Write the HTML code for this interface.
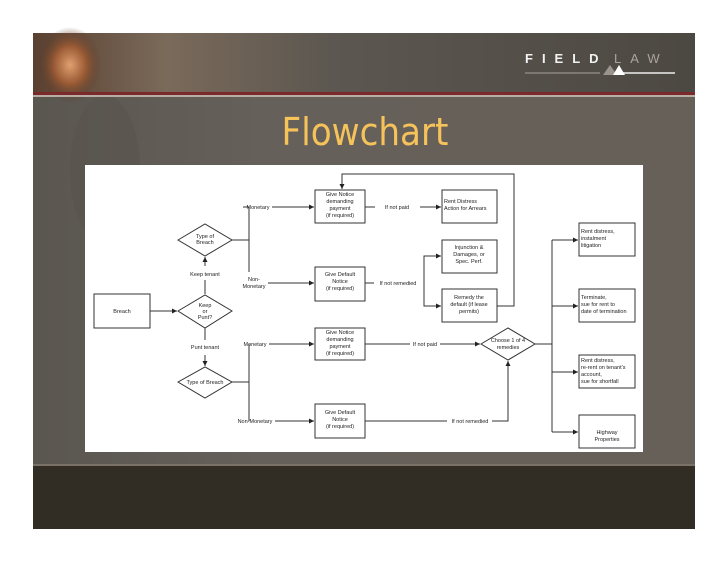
<!DOCTYPE html>
<html><head><meta charset="utf-8"><style>
body{margin:0;width:728px;height:563px;background:#fff;overflow:hidden;position:relative;font-family:"Liberation Sans",sans-serif}
</style></head><body>
<svg width="728" height="563" viewBox="0 0 728 563" style="position:absolute;left:0;top:0">
<defs>
<linearGradient id="hd" x1="0" x2="1" y1="0" y2="0">
<stop offset="0" stop-color="#5a4030"/><stop offset="0.2" stop-color="#7a6a5a"/><stop offset="0.45" stop-color="#5c5750"/><stop offset="1" stop-color="#4c4842"/></linearGradient>
<linearGradient id="bd" x1="0" x2="1" y1="0" y2="0">
<stop offset="0" stop-color="#5a5650"/><stop offset="0.35" stop-color="#66605a"/><stop offset="1" stop-color="#676058"/></linearGradient>
<radialGradient id="gv" cx="0.5" cy="0.5" r="0.5"><stop offset="0" stop-color="#e0a070"/><stop offset="0.5" stop-color="#9a5a34"/><stop offset="1" stop-color="#5a3a28" stop-opacity="0"/></radialGradient>
<marker id="a" markerWidth="6" markerHeight="6" refX="5" refY="3" orient="auto" markerUnits="userSpaceOnUse"><path d="M0,0.5 L5,3 L0,5.5z" fill="#222"/></marker>
</defs>
<rect x="33" y="33" width="662" height="496" fill="url(#bd)"/>
<rect x="33" y="33" width="662" height="60" fill="url(#hd)"/>
<ellipse cx="70" cy="65" rx="32" ry="38" fill="url(#gv)"/>
<ellipse cx="105" cy="170" rx="35" ry="75" fill="#55514b" opacity="0.35"/>
<rect x="33" y="92" width="662" height="3" fill="#7a2a2a"/>
<rect x="33" y="95" width="662" height="2" fill="#b8aea4"/>
<rect x="33" y="466" width="662" height="63" fill="#312d24"/>
<rect x="33" y="464" width="662" height="2" fill="#7a7266"/>
<text x="525" y="63" font-size="13" font-weight="bold" fill="#f2f2f2" letter-spacing="9">FIELD</text>
<text x="614" y="63" font-size="13" fill="#aaa49c" letter-spacing="9">LAW</text>
<line x1="525" y1="73" x2="600" y2="73" stroke="#8a8680" stroke-width="1.5"/>
<line x1="622" y1="73" x2="675" y2="73" stroke="#eee" stroke-width="1.5"/>
<path d="M603,75 L610,65 L617,75z" fill="#9a948c"/><path d="M613,75 L619,65 L625,75z" fill="#fff"/>
<text x="365" y="145" font-size="38" fill="#f5c35a" text-anchor="middle" font-family="DejaVu Sans Condensed, DejaVu Sans, sans-serif">Flowchart</text>
<rect x="85" y="165" width="558" height="287" fill="#fff"/>
<g fill="none" stroke="#333" stroke-width="1">
<rect x="94" y="294" width="56" height="34"/>
<path d="M178,311 L205,295 L232,311 L205,328z"/>
<path d="M178,240 L205,224 L232,240 L205,256z"/>
<path d="M178,382 L205,367 L232,382 L205,398z"/>
<rect x="315" y="190" width="50" height="33"/>
<rect x="315" y="267" width="50" height="34"/>
<rect x="315" y="328" width="50" height="32"/>
<rect x="315" y="404" width="50" height="34"/>
<rect x="442" y="190" width="55" height="33"/>
<rect x="442" y="240" width="55" height="33"/>
<rect x="442" y="289" width="55" height="33"/>
<path d="M481,344 L508,328 L535,344 L508,360z"/>
<rect x="579" y="223" width="56" height="33"/>
<rect x="579" y="289" width="56" height="33"/>
<rect x="579" y="355" width="56" height="33"/>
<rect x="579" y="415" width="56" height="33"/>
<g marker-end="url(#a)">
<line x1="150" y1="311" x2="177" y2="311"/>
<line x1="205" y1="266" x2="205" y2="257"/>
<line x1="205" y1="355" x2="205" y2="366"/>
<line x1="272" y1="207" x2="314" y2="207"/>
<line x1="268" y1="283" x2="314" y2="283"/>
<line x1="269" y1="344" x2="314" y2="344"/>
<line x1="275" y1="421" x2="314" y2="421"/>
<line x1="420" y1="207" x2="441" y2="207"/>
<path d="M424,283 L424,256 L441,256"/>
<path d="M424,283 L424,306 L441,306"/>
<path d="M497,306 L514,306 L514,174 L342,174 L342,189"/>
<line x1="440" y1="344" x2="480" y2="344"/>
<path d="M492,421 L508,421 L508,361"/>
<line x1="552" y1="240" x2="578" y2="240"/>
<line x1="552" y1="306" x2="578" y2="306"/>
<line x1="552" y1="372" x2="578" y2="372"/>
<line x1="552" y1="432" x2="578" y2="432"/>
</g>
<line x1="205" y1="280" x2="205" y2="294"/>
<line x1="205" y1="328" x2="205" y2="340"/>
<line x1="232" y1="240" x2="249" y2="240"/>
<line x1="232" y1="382" x2="249" y2="382"/>
<line x1="249" y1="207" x2="249" y2="272"/>
<line x1="249" y1="344" x2="249" y2="421"/>
<line x1="249" y1="207" x2="243" y2="207"/>
<line x1="365" y1="207" x2="375" y2="207"/>
<line x1="365" y1="283" x2="374" y2="283"/>
<line x1="365" y1="344" x2="410" y2="344"/>
<line x1="365" y1="421" x2="447" y2="421"/>
<line x1="535" y1="344" x2="552" y2="344"/>
<line x1="552" y1="240" x2="552" y2="432"/>
</g>
<g font-size="5.5" fill="#222" text-anchor="middle">
<text x="122" y="313">Breach</text>
<text x="205" y="307">Keep</text><text x="205" y="313">or</text><text x="205" y="319">Punt?</text>
<text x="205" y="238">Type of</text><text x="205" y="244">Breach</text>
<text x="205" y="384">Type of Breach</text>
<text x="205" y="276">Keep tenant</text>
<text x="205" y="349">Punt tenant</text>
<text x="258" y="209">Monetary</text>
<text x="254" y="281">Non-</text><text x="254" y="288">Monetary</text>
<text x="255" y="346">Monetary</text>
<text x="255" y="423">Non-Monetary</text>
<text x="340" y="196">Give Notice</text><text x="340" y="203">demanding</text><text x="340" y="210">payment</text><text x="340" y="217">(if required)</text>
<text x="340" y="276">Give Default</text><text x="340" y="283">Notice</text><text x="340" y="290">(if required)</text>
<text x="340" y="334">Give Notice</text><text x="340" y="341">demanding</text><text x="340" y="348">payment</text><text x="340" y="355">(if required)</text>
<text x="340" y="414">Give Default</text><text x="340" y="421">Notice</text><text x="340" y="428">(if required)</text>
<text x="397" y="209">If not paid</text>
<text x="398" y="285">If not remedied</text>
<text x="425" y="346">If not paid</text>
<text x="470" y="423">If not remedied</text>
<text x="469" y="249">Injunction &amp;</text><text x="469" y="256">Damages, or</text><text x="469" y="263">Spec. Perf.</text>
<text x="469" y="299">Remedy the</text><text x="469" y="306">default (if lease</text><text x="469" y="313">permits)</text>
<text x="508" y="342">Choose 1 of 4</text><text x="508" y="349">remedies</text>
<text x="607" y="434">Highway</text><text x="607" y="441">Properties</text>
</g>
<g font-size="5.5" fill="#222">
<text x="444" y="203">Rent Distress</text><text x="444" y="210">Action for Arrears</text>
<text x="581" y="233">Rent distress,</text><text x="581" y="240">instalment</text><text x="581" y="247">litigation</text>
<text x="581" y="299">Terminate,</text><text x="581" y="306">sue for rent to</text><text x="581" y="313">date of termination</text>
<text x="581" y="362">Rent distress,</text><text x="581" y="369">re-rent on tenant's</text><text x="581" y="376">account,</text><text x="581" y="383">sue for shortfall</text>
</g>
</svg>
</body></html>
